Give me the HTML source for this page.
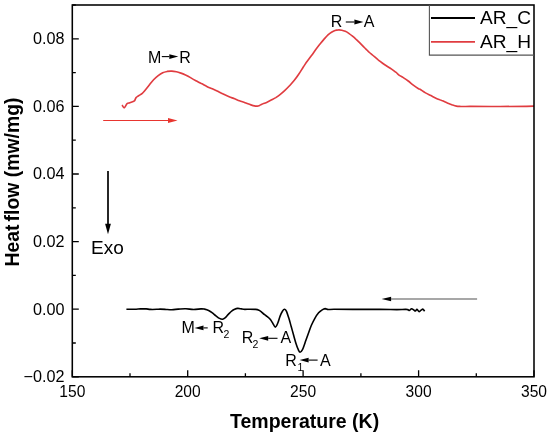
<!DOCTYPE html>
<html><head><meta charset="utf-8"><style>
html,body{margin:0;padding:0;background:#fff;}
svg{display:block;}
text{font-family:"Liberation Sans",Arial,sans-serif;fill:#000;}
</style></head><body>
<svg width="550" height="436" viewBox="0 0 550 436">
<g fill="none" stroke="#000" stroke-width="1.6">
<path d="M72.3 376.8 V370.3 M130.0 376.8 V373.3 M187.7 376.8 V370.3 M245.4 376.8 V373.3 M303.1 376.8 V370.3 M360.9 376.8 V373.3 M418.6 376.8 V370.3 M476.3 376.8 V373.3 M534.0 376.8 V370.3 M72.3 376.8 H78.8 M72.3 343.0 H75.8 M72.3 309.2 H78.8 M72.3 275.4 H75.8 M72.3 241.6 H78.8 M72.3 207.8 H75.8 M72.3 174.0 H78.8 M72.3 140.2 H75.8 M72.3 106.4 H78.8 M72.3 72.6 H75.8 M72.3 38.8 H78.8 M72.3 5.0 H75.8" stroke-width="1.3"/>
</g>
<path d="M122.1 105.0 C122.5 105.5 123.5 108.0 124.3 107.8 C125.1 107.6 126.2 104.4 127.1 103.6 C128.0 102.8 128.9 103.1 129.9 102.7 C130.9 102.3 132.5 101.8 133.3 101.4 C134.1 101.1 134.1 101.2 134.6 100.6 C135.1 100.0 135.4 98.4 136.1 97.6 C136.8 96.8 137.6 96.5 138.6 95.8 C139.6 95.1 141.3 94.2 142.3 93.4 C143.3 92.6 143.4 92.5 144.5 91.1 C145.6 89.7 147.6 87.1 149.1 85.2 C150.6 83.3 152.1 81.3 153.6 79.7 C155.1 78.1 156.7 76.8 158.2 75.6 C159.7 74.4 161.2 73.4 162.7 72.7 C164.2 72.0 165.8 71.7 167.3 71.4 C168.8 71.1 170.3 71.0 171.8 71.1 C173.3 71.2 174.9 71.5 176.4 71.8 C177.9 72.1 179.4 72.6 180.9 73.1 C182.4 73.6 183.9 74.2 185.5 74.9 C187.1 75.7 188.8 76.6 190.5 77.6 C192.2 78.6 194.1 79.7 195.9 80.7 C197.7 81.7 199.6 82.6 201.4 83.6 C203.2 84.5 205.0 85.5 206.8 86.4 C208.6 87.3 210.5 88.0 212.3 88.8 C214.1 89.6 215.9 90.4 217.7 91.3 C219.5 92.2 221.4 93.2 223.2 94.0 C225.0 94.8 226.8 95.6 228.6 96.4 C230.4 97.2 232.3 97.9 234.1 98.6 C235.9 99.3 237.7 100.1 239.5 100.8 C241.3 101.5 243.1 102.0 245.0 102.7 C246.9 103.4 249.3 104.4 250.9 104.9 C252.5 105.4 253.5 105.7 254.5 105.9 C255.5 106.1 256.2 106.2 257.1 106.1 C258.0 106.0 258.8 105.7 259.6 105.4 C260.4 105.1 260.8 104.7 262.0 104.2 C263.2 103.7 265.1 103.1 266.6 102.4 C268.1 101.7 269.7 100.9 271.2 100.1 C272.7 99.3 274.3 98.5 275.8 97.6 C277.3 96.6 278.8 95.6 280.3 94.4 C281.8 93.2 283.4 91.8 284.9 90.4 C286.4 89.0 288.0 87.4 289.5 85.8 C291.0 84.2 292.6 82.5 294.1 80.6 C295.6 78.7 297.2 76.6 298.7 74.3 C300.2 72.0 301.9 69.2 303.3 67.0 C304.8 64.8 306.0 62.9 307.4 61.0 C308.8 59.1 310.1 57.4 311.5 55.5 C312.9 53.6 314.2 51.7 315.6 49.8 C317.0 47.9 318.4 46.0 319.8 44.3 C321.2 42.6 322.5 41.0 323.9 39.4 C325.3 37.8 326.7 36.1 328.0 34.9 C329.3 33.7 330.3 32.9 331.5 32.2 C332.7 31.5 333.9 30.9 335.0 30.5 C336.1 30.1 337.2 29.9 338.4 29.9 C339.5 29.8 340.8 30.0 341.9 30.2 C343.0 30.4 344.1 30.8 345.3 31.3 C346.5 31.8 347.7 32.5 348.8 33.3 C349.9 34.1 351.1 35.0 352.2 35.9 C353.3 36.8 354.5 37.8 355.6 38.8 C356.8 39.8 358.0 41.1 359.1 42.2 C360.2 43.3 361.4 44.5 362.5 45.6 C363.6 46.8 364.9 48.0 366.0 49.1 C367.1 50.2 368.4 51.6 369.4 52.5 C370.4 53.4 370.5 53.4 372.0 54.6 C373.5 55.8 376.1 58.1 378.2 59.8 C380.3 61.4 382.2 63.0 384.4 64.5 C386.6 66.0 389.7 67.8 391.6 69.1 C393.5 70.4 394.5 71.2 395.8 72.2 C397.1 73.2 398.2 74.4 399.4 75.3 C400.6 76.2 401.5 76.5 403.0 77.4 C404.5 78.4 406.5 79.7 408.2 81.0 C409.9 82.3 411.6 83.8 413.3 85.1 C415.0 86.4 417.4 88.0 418.5 88.7 C419.6 89.4 418.8 88.6 420.0 89.3 C421.2 90.0 423.7 91.9 425.5 92.9 C427.3 94.0 429.1 94.7 430.9 95.6 C432.7 96.5 434.6 97.6 436.4 98.4 C438.2 99.2 440.0 99.8 441.8 100.6 C443.6 101.3 445.6 102.2 447.3 102.9 C449.0 103.6 450.3 104.2 451.8 104.7 C453.3 105.2 454.9 105.8 456.4 106.1 C457.9 106.4 459.4 106.4 460.9 106.5 C462.4 106.6 464.0 106.5 465.5 106.5 C467.0 106.5 464.2 106.4 470.0 106.4 C475.8 106.4 489.3 106.5 500.0 106.5 C510.7 106.5 528.3 106.2 534.0 106.1" fill="none" stroke="#e03c40" stroke-width="1.65" stroke-linejoin="round"/>
<path d="M126.4 309.3 C127.8 309.3 132.3 309.3 134.7 309.2 C137.0 309.1 138.6 308.9 140.5 308.8 C142.4 308.8 144.6 308.8 146.2 308.9 C147.8 309.0 148.5 309.3 150.3 309.4 C152.1 309.5 155.2 309.4 156.8 309.3 C158.4 309.2 158.7 309.1 160.1 309.1 C161.5 309.1 163.6 309.2 165.5 309.4 C167.4 309.5 169.7 309.7 171.8 309.7 C173.9 309.7 175.8 309.3 178.2 309.1 C180.5 309.0 183.3 308.7 185.9 308.8 C188.5 308.9 191.1 309.5 193.6 309.5 C196.1 309.5 199.1 309.0 200.9 308.9 C202.7 308.8 203.2 308.9 204.5 309.1 C205.8 309.4 207.3 309.8 208.6 310.4 C209.9 311.0 211.1 312.0 212.3 312.9 C213.5 313.8 214.7 314.9 215.9 315.8 C217.1 316.7 218.4 317.8 219.5 318.4 C220.6 319.0 221.5 319.3 222.5 319.2 C223.5 319.1 224.4 318.4 225.4 317.6 C226.4 316.8 227.3 315.4 228.3 314.4 C229.3 313.4 230.2 312.3 231.2 311.5 C232.2 310.7 233.0 310.1 234.1 309.6 C235.2 309.1 236.5 308.5 237.7 308.4 C238.9 308.3 240.2 308.7 241.4 308.9 C242.6 309.1 243.6 309.3 245.0 309.4 C246.4 309.4 248.1 309.2 249.9 309.2 C251.7 309.2 254.1 309.2 255.6 309.4 C257.1 309.6 257.9 309.8 258.9 310.2 C259.9 310.6 260.4 311.1 261.4 311.8 C262.3 312.6 263.5 313.8 264.6 314.7 C265.7 315.6 266.9 316.3 267.9 317.1 C268.9 317.9 269.6 318.6 270.4 319.6 C271.2 320.6 272.0 322.1 272.8 323.3 C273.6 324.6 274.5 327.1 275.3 327.1 C276.1 327.1 276.9 325.2 277.7 323.3 C278.5 321.4 279.4 317.9 280.2 315.9 C281.0 313.8 281.9 312.1 282.6 311.0 C283.3 309.9 284.0 309.2 284.6 309.3 C285.2 309.4 285.8 309.9 286.5 311.4 C287.2 312.9 288.0 315.6 288.8 318.1 C289.6 320.6 290.4 323.7 291.2 326.5 C292.0 329.3 292.7 332.0 293.5 334.8 C294.3 337.6 295.1 340.7 295.9 343.2 C296.7 345.7 297.6 348.2 298.3 349.7 C299.0 351.2 299.4 352.2 300.1 352.2 C300.8 352.2 301.7 351.2 302.5 349.7 C303.3 348.2 304.0 345.7 304.9 343.2 C305.8 340.7 306.8 337.8 307.9 334.8 C309.0 331.8 310.2 328.1 311.4 325.3 C312.6 322.5 313.8 320.2 315.0 318.1 C316.2 316.0 317.4 314.2 318.6 312.8 C319.8 311.4 321.1 310.5 322.2 309.8 C323.3 309.1 324.2 308.7 325.2 308.6 C326.2 308.6 326.7 309.4 328.2 309.5 C329.7 309.6 329.9 309.3 334.0 309.3 C338.1 309.3 345.0 309.4 352.7 309.4 C360.4 309.4 372.6 309.4 380.0 309.4 C387.4 309.4 392.4 309.6 396.8 309.6 C401.2 309.6 404.5 309.2 406.6 309.4 C408.7 309.5 408.6 310.6 409.4 310.5 C410.2 310.4 410.8 308.9 411.5 308.8 C412.2 308.7 413.1 309.5 413.7 309.9 C414.3 310.3 414.8 311.1 415.4 311.0 C415.9 310.9 416.4 309.3 417.0 309.4 C417.6 309.5 418.5 311.5 419.2 311.6 C419.9 311.7 420.8 310.3 421.4 309.9 C422.0 309.5 422.5 309.0 423.0 309.2 C423.5 309.4 424.3 310.9 424.6 311.3" fill="none" stroke="#000" stroke-width="1.6" stroke-linejoin="round"/>
<rect x="72.3" y="5.0" width="461.7" height="371.8" fill="none" stroke="#000" stroke-width="1.55"/>
<!-- legend -->
<path d="M429.4 5 V55.1 H534" fill="none" stroke="#555" stroke-width="1.1"/>
<path d="M431 18 H475" stroke="#000" stroke-width="2"/>
<path d="M431 41.9 H475" stroke="#e03c40" stroke-width="1.8"/>
<g font-size="18"><text x="480" y="23.5" textLength="51" lengthAdjust="spacingAndGlyphs">AR_C</text><text x="480" y="47.7" textLength="51" lengthAdjust="spacingAndGlyphs">AR_H</text></g>
<g font-size="16.2">
<text x="64.5" y="44.1" text-anchor="end">0.08</text>
<text x="64.5" y="111.7" text-anchor="end">0.06</text>
<text x="64.5" y="179.3" text-anchor="end">0.04</text>
<text x="64.5" y="246.9" text-anchor="end">0.02</text>
<text x="64.5" y="314.5" text-anchor="end">0.00</text>
<text x="64.5" y="382.1" text-anchor="end">−0.02</text>
<text x="72.3" y="397.3" text-anchor="middle" font-size="15.6">150</text>
<text x="187.7" y="397.3" text-anchor="middle" font-size="15.6">200</text>
<text x="303.1" y="397.3" text-anchor="middle" font-size="15.6">250</text>
<text x="418.6" y="397.3" text-anchor="middle" font-size="15.6">300</text>
<text x="534.0" y="397.3" text-anchor="middle" font-size="15.6">350</text>

</g>
<text x="230" y="428" font-size="19.5" font-weight="bold">Temperature (K)</text>
<text transform="translate(19,266.6) rotate(-90)" font-size="19.4" font-weight="bold">Heat <tspan dx="-2.2">flow</tspan> (mw/mg)</text>
<!-- annotations -->
<g font-size="16">
<text x="148" y="62.9">M</text><path d="M161.8 56.6 H169.3" stroke="#000" stroke-width="1.1"/><path d="M178.3 56.6 L169.3 54.2 L169.3 59.0 Z" fill="#000"/><text x="179.3" y="62.9">R</text>
<text x="330.8" y="27.1">R</text><path d="M345.8 22.0 H354.4" stroke="#000" stroke-width="1.1"/><path d="M363.4 22.0 L354.4 19.6 L354.4 24.4 Z" fill="#000"/><text x="363.7" y="27.1">A</text>
<text x="181.5" y="332.5">M</text><path d="M207.7 327.9 H203.5" stroke="#000" stroke-width="1.1"/><path d="M194.5 327.9 L203.5 325.5 L203.5 330.3 Z" fill="#000"/><text x="212.5" y="332.7">R</text><text x="223.6" y="338.4" font-size="10.5">2</text>
<text x="241.7" y="343">R</text><path d="M277.5 338.3 H268.2" stroke="#000" stroke-width="1.1"/><path d="M259.2 338.3 L268.2 335.9 L268.2 340.7 Z" fill="#000"/><text x="252.6" y="348.3" font-size="10.5">2</text><text x="280.5" y="342.5">A</text>
<text x="285.3" y="366.2">R</text><text x="297.5" y="370.5" font-size="10.5">1</text><path d="M317.6 360.1 H308.6" stroke="#000" stroke-width="1.1"/><path d="M299.6 360.1 L308.6 357.7 L308.6 362.5 Z" fill="#000"/><text x="320" y="366.2">A</text>
<text x="91" y="253.8" font-size="19">Exo</text>
</g>
<path d="M103.2 120.5 H168.0" stroke="#e8352f" stroke-width="1.0"/><path d="M177.5 120.5 L168.0 117.9 L168.0 123.1 Z" fill="#e8352f"/>
<path d="M477.1 299.0 H391.1" stroke="#8a8a8a" stroke-width="1.3"/><path d="M381.6 299.0 L391.1 296.7 L391.1 301.3 Z" fill="#000"/>
<path d="M108 171 V224" stroke="#000" stroke-width="1.7"/>
<path d="M108 234.2 L105.1 223.8 L110.9 223.8 Z" fill="#000"/>
</svg>
</body></html>
